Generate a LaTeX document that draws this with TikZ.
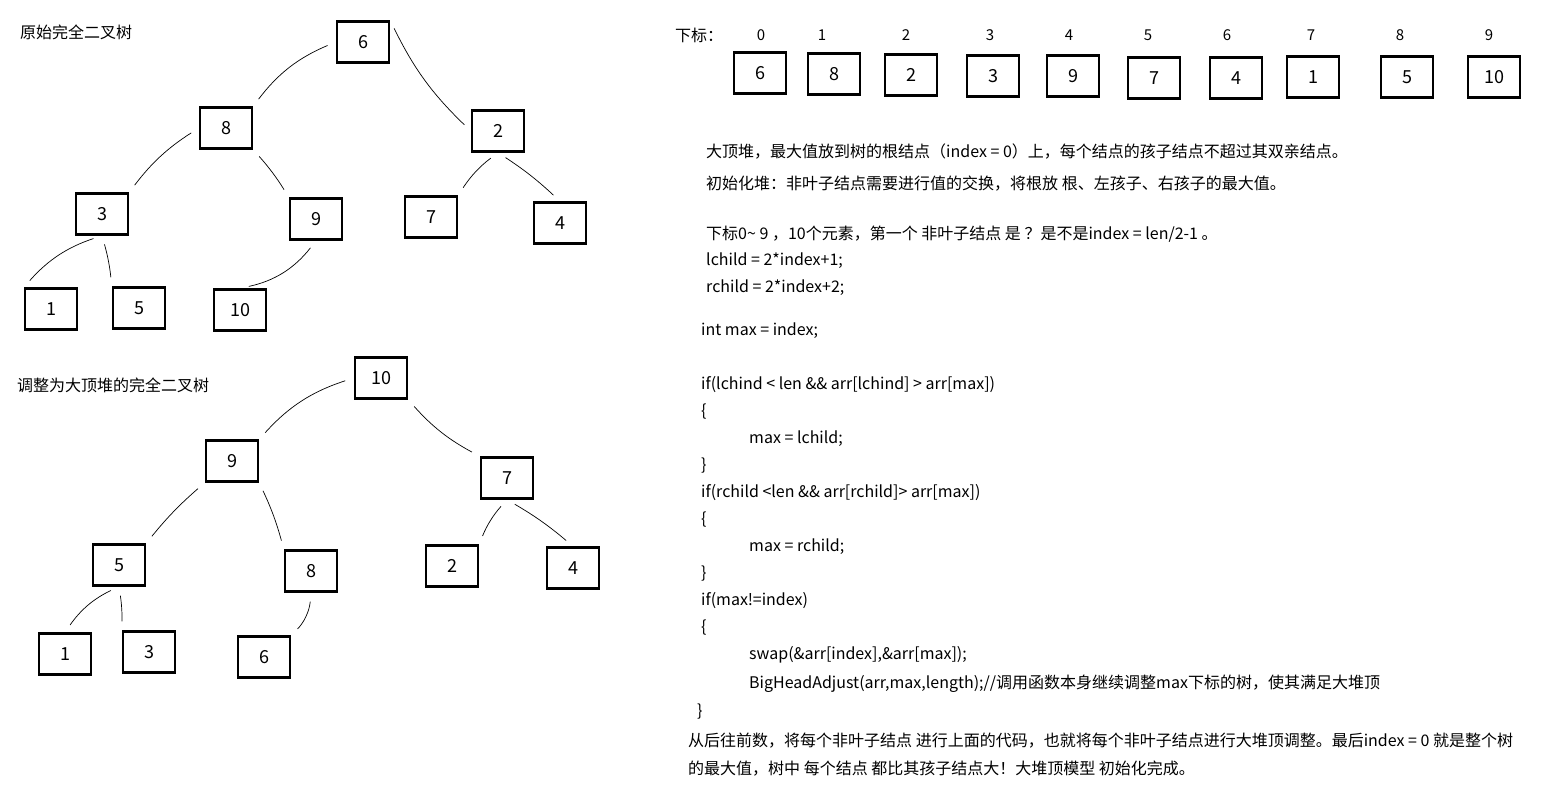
\documentclass[tikz,border=0pt]{standalone}
\usepackage{fontspec}
\setmainfont{Noto Sans CJK SC}
\begin{document}
\begin{tikzpicture}[x=1pt,y=-1pt,
  bx/.style={draw,line width=2.4pt,minimum width=52pt,minimum height=41pt,inner sep=0pt,font=\fontsize{18}{20}\selectfont},
  ed/.style={line width=0.7pt,shorten >=9pt,shorten <=9pt},
  tx/.style={anchor=west,inner sep=0pt,font=\fontsize{16}{18}\selectfont}]
\useasboundingbox[fill=white] (0,0) rectangle (1541,796);
% tree 1
\node[tx] (t1) at (20,32) {原始完全二叉树};
\node[bx] (a6) at (363,42) {6};
\node[bx] (a8) at (226,128) {8};
\node[bx] (a2) at (498,131) {2};
\node[bx] (a3) at (102,214) {3};
\node[bx] (a9) at (316,219) {9};
\node[bx] (a7) at (431,217) {7};
\node[bx] (a4) at (560,223) {4};
\node[bx] (a1) at (51,309) {1};
\node[bx] (a5) at (139,308) {5};
\node[bx] (a10) at (240,310) {10};
\draw[ed] (a6.west) to[bend right=15] (a8.north east);
\draw[ed] (a6.north east) to[bend right=10] (a2.west);
\draw[ed] (a8.west) to[bend right=10] (a3.north east);
\draw[ed] (a8.south east) to[bend left=5] (a9.north west);
\draw[ed] (a2.south) to[bend right=10] (a7.north east);
\draw[ed] (a2.south) to[bend left=5] (a4.north);
\draw[ed] (a3.south) to[bend right=15] (a1.north west);
\draw[ed] (a3.south) to[bend left=5] (a5.north west);
\draw[ed] (a9.south) to[bend left=20] (a10.north);
% tree 2
\node[tx] (t2) at (17,385) {调整为大顶堆的完全二叉树};
\node[bx] (b10) at (381,378) {10};
\node[bx] (b9) at (232,461) {9};
\node[bx] (b7) at (507,478) {7};
\node[bx] (b5) at (119,565) {5};
\node[bx] (b8) at (311,571) {8};
\node[bx] (b2) at (452,566) {2};
\node[bx] (b4) at (573,568) {4};
\node[bx] (b1) at (65,654) {1};
\node[bx] (b3) at (149,652) {3};
\node[bx] (b6) at (264,657) {6};
\draw[ed] (b10.west) to[bend right=15] (b9.north east);
\draw[ed] (b10.south east) to[bend right=10] (b7.north west);
\draw[ed] (b9.south west) to[bend right=5] (b5.north east);
\draw[ed] (b9.south east) to[bend left=5] (b8.north west);
\draw[ed] (b7.south) to[bend right=10] (b2.north east);
\draw[ed] (b7.south) to[bend left=5] (b4.north);
\draw[ed] (b5.south) to[bend right=15] (b1.north);
\draw[ed] (b5.south) to[bend left=5] (b3.north west);
\draw[ed] (b8.south) to[bend left=20] (b6.north east);
% array
\node[tx] (lb) at (675,35) {下标：};
\foreach \i/\x in {0/761,1/822,2/906,3/990,4/1069,5/1148,6/1227,7/1311,8/1400,9/1489}
  \node[font=\fontsize{15}{18}\selectfont] (i\i) at (\x,35) {\i};
\foreach \n/\v/\x/\y in {0/6/760/73,1/8/834/74,2/2/911/75,3/3/993/76,4/9/1073/76,5/7/1154/78,6/4/1236/78,7/1/1313/77,8/5/1407/77,9/10/1494/77}
  \node[bx] (c\n) at (\x,\y) {\v};
% text
\node[tx] (l1) at (706,152) {大顶堆，最大值放到树的根结点（index = 0）上，每个结点的孩子结点不超过其双亲结点。};
\node[tx] (l2) at (706,184) {初始化堆：非叶子结点需要进行值的交换，将根放 根、左孩子、右孩子的最大值。};
\node[tx] (l3) at (706,234) {下标0\textasciitilde{} 9 ，10个元素，第一个 非叶子结点 是 ？是不是index = len/2-1 。};
\node[tx] (l4) at (706,261) {lchild = 2*index+1;};
\node[tx] (l5) at (706,288) {rchild = 2*index+2;};
\node[tx] (l6) at (701,331) {int max = index;};
\node[tx] (l7) at (701,385) {if(lchind < len \&\& arr[lchind] > arr[max])};
\node[tx] (l8) at (701,412) {\{};
\node[tx] (l9) at (749,439) {max = lchild;};
\node[tx] (l10) at (701,466) {\}};
\node[tx] (l11) at (701,493) {if(rchild <len \&\& arr[rchild]> arr[max])};
\node[tx] (l12) at (701,520) {\{};
\node[tx] (l13) at (749,547) {max = rchild;};
\node[tx] (l14) at (701,574) {\}};
\node[tx] (l15) at (701,601) {if(max!=index)};
\node[tx] (l16) at (701,628) {\{};
\node[tx] (l17) at (749,655) {swap(\&arr[index],\&arr[max]);};
\node[tx] (l18) at (749,684) {BigHeadAdjust(arr,max,length);//调用函数本身继续调整max下标的树，使其满足大堆顶};
\node[tx] (l19) at (697,712) {\}};
\node[tx] (l20) at (688,741) {从后往前数，将每个非叶子结点 进行上面的代码，也就将每个非叶子结点进行大堆顶调整。最后index = 0 就是整个树};
\node[tx] (l21) at (688,769) {的最大值，树中 每个结点 都比其孩子结点大！大堆顶模型 初始化完成。};
\end{tikzpicture}
\end{document}
